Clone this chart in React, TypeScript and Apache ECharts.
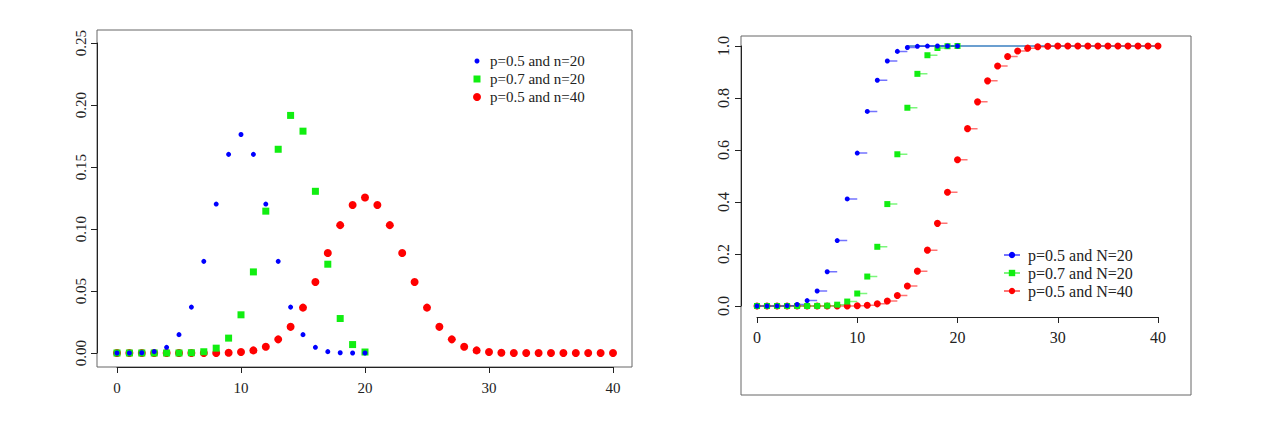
import React, { useEffect, useRef } from 'react';
import * as echarts from 'echarts';

const FONT = '"Liberation Serif", "DejaVu Serif", serif';

// k values for n=20 and n=40
const k20 = [0, 1, 2, 3, 4, 5, 6, 7, 8, 9, 10, 11, 12, 13, 14, 15, 16, 17, 18, 19, 20];
const k40 = [
  0, 1, 2, 3, 4, 5, 6, 7, 8, 9, 10, 11, 12, 13, 14, 15, 16, 17, 18, 19, 20,
  21, 22, 23, 24, 25, 26, 27, 28, 29, 30, 31, 32, 33, 34, 35, 36, 37, 38, 39, 40,
];

// left panel: probability mass
const pmfP05N20 = [
  0, 0, 0.0002, 0.0011, 0.0046, 0.0148, 0.037, 0.0739, 0.1201, 0.1602, 0.1762,
  0.1602, 0.1201, 0.0739, 0.037, 0.0148, 0.0046, 0.0011, 0.0002, 0, 0,
];
const pmfP07N20 = [
  0, 0, 0, 0, 0, 0, 0.0002, 0.001, 0.0039, 0.012, 0.0308,
  0.0654, 0.1144, 0.1643, 0.1916, 0.1789, 0.1304, 0.0716, 0.0278, 0.0068, 0.0008,
];
const pmfP05N40 = [
  0, 0, 0, 0, 0, 0, 0, 0, 0, 0.0002, 0.0008, 0.0021, 0.0051, 0.011, 0.0211,
  0.0366, 0.0572, 0.0807, 0.1031, 0.1194, 0.1254, 0.1194, 0.1031, 0.0807,
  0.0572, 0.0366, 0.0211, 0.011, 0.0051, 0.0021, 0.0008, 0.0002, 0, 0, 0, 0, 0,
  0, 0, 0, 0,
];

// right panel: cumulative probability
const cdfP05N20 = [
  0, 0, 0.0002, 0.0013, 0.0059, 0.0207, 0.0577, 0.1316, 0.2517, 0.4119, 0.5881,
  0.7483, 0.8684, 0.9423, 0.9793, 0.9941, 0.9987, 0.9998, 1, 1, 1,
];
const cdfP07N20 = [
  0, 0, 0, 0, 0, 0, 0.0003, 0.0013, 0.0051, 0.0171, 0.048,
  0.1133, 0.2277, 0.392, 0.5836, 0.7625, 0.8929, 0.9645, 0.9924, 0.9992, 1,
];
const cdfP05N40 = [
  0, 0, 0, 0, 0, 0, 0, 0, 0.0001, 0.0003, 0.0011, 0.0032, 0.0083, 0.0192,
  0.0403, 0.0769, 0.1341, 0.2148, 0.3179, 0.4373, 0.5627, 0.6821, 0.7852,
  0.8659, 0.9231, 0.9597, 0.9808, 0.9917, 0.9968, 0.9989, 0.9997, 0.9999, 1, 1,
  1, 1, 1, 1, 1, 1, 1,
];
// flat line at 1.0 on the right panel
const topLine = [[15, 1], [40, 1]];

const namesLeft = ['p=0.5 and n=20', 'p=0.7 and n=20', 'p=0.5 and n=40'];
const namesRight = ['p=0.5 and N=20', 'p=0.7 and N=20', 'p=0.5 and N=40'];

const BLUE = '#0000ff';
const GREEN = '#11ee11';
const RED = '#ff0000';

const pairs = (ks: number[], vs: number[]) => ks.map((k, i) => [k, vs[i]]);

// point at k, segment to k+1, then a break
const steps = (ks: number[], vs: number[]) => {
  const out: any[] = [];
  ks.forEach((k, i) => {
    out.push([k, vs[i]]);
    if (i < ks.length - 1) {
      out.push({ value: [k + 1, vs[i]], symbol: 'none' });
      out.push([k + 1, '-']);
    }
  });
  return out;
};

const axisText = (size: number) => ({
  fontFamily: FONT,
  fontSize: size,
  color: '#222',
});

const App: React.FC = () => {
  const chartRef = useRef<HTMLDivElement>(null);

  useEffect(() => {
    document.body.style.margin = '0';
    if (!chartRef.current) return;
    const chart = echarts.init(chartRef.current, undefined, { renderer: 'svg' });

    const line = { show: true, onZero: false, lineStyle: { color: '#222', width: 1 } };
    const tick = { show: true, length: 6, lineStyle: { color: '#222' } };

    const leftLegend = (name: string, size: number, top: number, icon: string) => ({
      show: true,
      data: [{ name, icon }],
      left: 477 - size / 2,
      top,
      padding: 0,
      itemWidth: size,
      itemHeight: size,
      selectedMode: false,
      textStyle: { ...axisText(15), lineHeight: 18, padding: [0, 0, 0, 490 - (477 + size / 2) - 5] },
    });

    const option = {
      animation: false,
      backgroundColor: '#fff',
      grid: [
        { left: 117, top: 43, width: 496, height: 310 },
        { left: 757, top: 46, width: 401, height: 260 },
      ],
      xAxis: [
        {
          gridIndex: 0, type: 'value', min: 0, max: 40, interval: 10, offset: 14,
          axisLine: line, axisTick: tick,
          axisLabel: { ...axisText(15), margin: 13 },
          splitLine: { show: false },
        },
        {
          gridIndex: 1, type: 'value', min: 0, max: 40, interval: 10, offset: 11,
          axisLine: line, axisTick: tick,
          axisLabel: { ...axisText(16), margin: 12 },
          splitLine: { show: false },
        },
      ],
      yAxis: [
        {
          gridIndex: 0, type: 'value', min: 0, max: 0.25, interval: 0.05, offset: 20,
          axisLine: line, axisTick: tick,
          axisLabel: { ...axisText(15), rotate: 90, margin: 9, formatter: (v: number) => v.toFixed(2) },
          splitLine: { show: false },
        },
        {
          gridIndex: 1, type: 'value', min: 0, max: 1, interval: 0.2, offset: 16,
          axisLine: line, axisTick: tick,
          axisLabel: { ...axisText(16), rotate: 90, margin: 10, formatter: (v: number) => v.toFixed(1) },
          splitLine: { show: false },
        },
      ],
      legend: [
        leftLegend(namesLeft[0], 5, 52, 'circle'),
        leftLegend(namesLeft[1], 7, 70, 'rect'),
        leftLegend(namesLeft[2], 8, 88, 'circle'),
        {
          show: true,
          data: namesRight,
          orient: 'vertical',
          left: 1003,
          top: 246,
          padding: 0,
          itemGap: 0,
          itemWidth: 16,
          itemHeight: 8,
          selectedMode: false,
          textStyle: { ...axisText(16), lineHeight: 18, padding: [0, 0, 0, 3] },
        },
      ],
      graphic: [
        {
          type: 'rect', z: -10, silent: true,
          shape: { x: 97, y: 30, width: 535, height: 337 },
          style: { fill: 'none', stroke: '#666', lineWidth: 1 },
        },
        {
          type: 'rect', z: -10, silent: true,
          shape: { x: 741, y: 36, width: 450, height: 359 },
          style: { fill: 'none', stroke: '#666', lineWidth: 1 },
        },
      ],
      series: [
        {
          type: 'scatter', name: namesLeft[2], xAxisIndex: 0, yAxisIndex: 0,
          data: pairs(k40, pmfP05N40), symbol: 'circle', symbolSize: 8,
          itemStyle: { color: RED, opacity: 1 }, clip: false, silent: true,
        },
        {
          type: 'scatter', name: namesLeft[1], xAxisIndex: 0, yAxisIndex: 0,
          data: pairs(k20, pmfP07N20), symbol: 'rect', symbolSize: 7,
          itemStyle: { color: GREEN, opacity: 1 }, clip: false, silent: true,
        },
        {
          type: 'scatter', name: namesLeft[0], xAxisIndex: 0, yAxisIndex: 0,
          data: pairs(k20, pmfP05N20), symbol: 'circle', symbolSize: 5,
          itemStyle: { color: BLUE, opacity: 1 }, clip: false, silent: true,
        },
        {
          type: 'line', xAxisIndex: 1, yAxisIndex: 1, data: topLine,
          symbol: 'none', lineStyle: { color: '#3a7fc0', width: 1.5 }, clip: false, silent: true,
        },
        {
          type: 'line', name: namesRight[2], xAxisIndex: 1, yAxisIndex: 1,
          data: steps(k40, cdfP05N40), symbol: 'circle', symbolSize: 7, showSymbol: true,
          connectNulls: false, itemStyle: { color: RED },
          lineStyle: { color: RED, width: 1.5, opacity: 0.55 }, clip: false, silent: true,
        },
        {
          type: 'line', name: namesRight[1], xAxisIndex: 1, yAxisIndex: 1,
          data: steps(k20, cdfP07N20), symbol: 'rect', symbolSize: 6, showSymbol: true,
          connectNulls: false, itemStyle: { color: GREEN },
          lineStyle: { color: GREEN, width: 1.5, opacity: 0.55 }, clip: false, silent: true,
        },
        {
          type: 'line', name: namesRight[0], xAxisIndex: 1, yAxisIndex: 1,
          data: steps(k20, cdfP05N20), symbol: 'circle', symbolSize: 5, showSymbol: true,
          connectNulls: false, itemStyle: { color: BLUE },
          lineStyle: { color: BLUE, width: 1.5, opacity: 0.55 }, clip: false, silent: true,
        },
      ],
    };

    chart.setOption(option);

    return () => {
      chart.dispose();
    };
  }, []);

  return <div ref={chartRef} style={{ width: 1280, height: 432 }} />;
};

export default App;
